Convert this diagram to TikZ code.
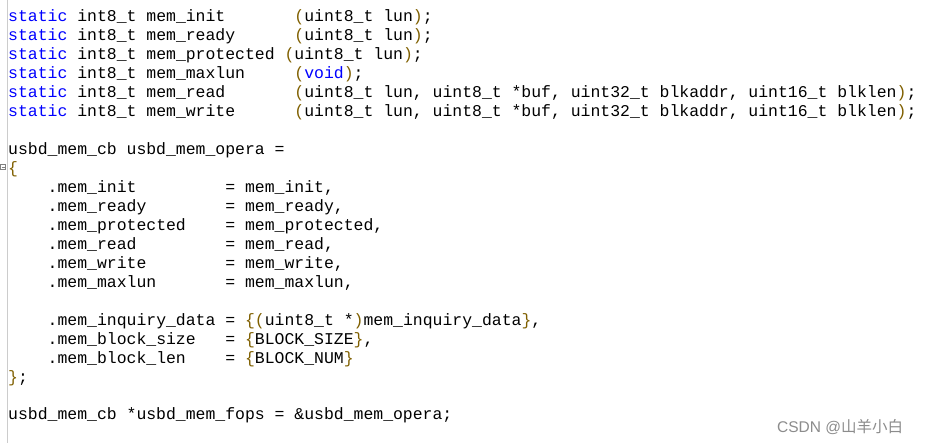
\documentclass[tikz,border=0pt]{standalone}
\usepackage{fontspec}
\setmonofont{Liberation Mono}
\newfontfamily\sansf{Liberation Sans}
\newfontfamily\cjk{Noto Sans CJK SC}
\definecolor{kw}{RGB}{0,0,255}
\definecolor{br}{RGB}{128,96,0}
\newcommand{\K}[1]{\textcolor{kw}{#1}}
\newcommand{\B}[1]{\textcolor{br}{#1}}
\begin{document}
\begin{tikzpicture}[x=1pt,y=-1pt,
  code/.style={anchor=base west,inner sep=0pt,font=\ttfamily\fontsize{16.45}{19}\selectfont}]
\useasboundingbox[fill=white] (0,0) rectangle (926,443);
\draw[gray!40,line width=0.8pt] (7,0) -- (7,443);
\node[draw=gray,fill=white,minimum size=5pt,inner sep=0pt,line width=0.5pt] (fold) at (3,167) {};
\draw[gray,line width=0.5pt] (1.5,167) -- (4.5,167);
\def\R#1#2#3{\node[code] (l#1) at (8,{22+18.95*#1}) {#3};}
\R{0}{}{\K{static}~int8\_t~mem\_init~~~~~~~\B{(}uint8\_t~lun\B{)};}
\R{1}{}{\K{static}~int8\_t~mem\_ready~~~~~~\B{(}uint8\_t~lun\B{)};}
\R{2}{}{\K{static}~int8\_t~mem\_protected~\B{(}uint8\_t~lun\B{)};}
\R{3}{}{\K{static}~int8\_t~mem\_maxlun~~~~~\B{(}\K{void}\B{)};}
\R{4}{}{\K{static}~int8\_t~mem\_read~~~~~~~\B{(}uint8\_t~lun,~uint8\_t~*buf,~uint32\_t~blkaddr,~uint16\_t~blklen\B{)};}
\R{5}{}{\K{static}~int8\_t~mem\_write~~~~~~\B{(}uint8\_t~lun,~uint8\_t~*buf,~uint32\_t~blkaddr,~uint16\_t~blklen\B{)};}
\R{7}{}{usbd\_mem\_cb~usbd\_mem\_opera~=}
\R{8}{}{\B{\{}}
\R{9}{}{~~~~.mem\_init~~~~~~~~~=~mem\_init,}
\R{10}{}{~~~~.mem\_ready~~~~~~~~=~mem\_ready,}
\R{11}{}{~~~~.mem\_protected~~~~=~mem\_protected,}
\R{12}{}{~~~~.mem\_read~~~~~~~~~=~mem\_read,}
\R{13}{}{~~~~.mem\_write~~~~~~~~=~mem\_write,}
\R{14}{}{~~~~.mem\_maxlun~~~~~~~=~mem\_maxlun,}
\R{16}{}{~~~~.mem\_inquiry\_data~=~\B{\{(}uint8\_t~*\B{)}mem\_inquiry\_data\B{\}},}
\R{17}{}{~~~~.mem\_block\_size~~~=~\B{\{}BLOCK\_SIZE\B{\}},}
\R{18}{}{~~~~.mem\_block\_len~~~~=~\B{\{}BLOCK\_NUM\B{\}}}
\R{19}{}{\B{\}};}
\R{21}{}{usbd\_mem\_cb~*usbd\_mem\_fops~=~\&usbd\_mem\_opera;}
\node[anchor=base west,inner sep=0pt,text=gray!90,font=\fontsize{15.5}{17}\selectfont] (wm) at (777,432) {\sansf CSDN @\cjk 山羊小白};
\end{tikzpicture}
\end{document}
